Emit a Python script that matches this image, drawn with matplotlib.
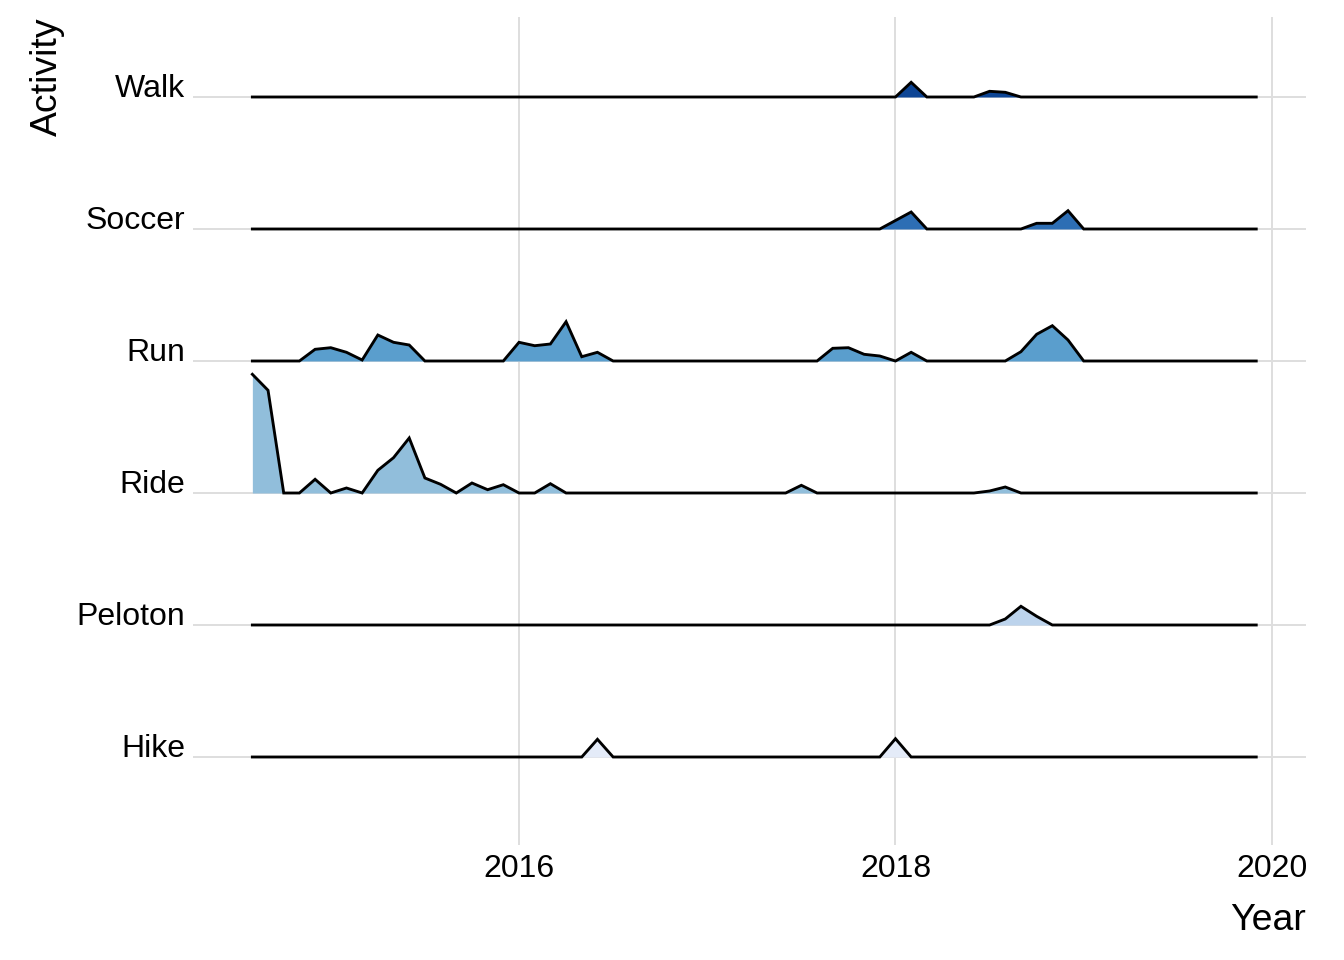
import numpy as np
import pandas as pd
import matplotlib
matplotlib.use("Agg")
import matplotlib.pyplot as plt

plt.rcParams['font.family'] = ['Liberation Sans', 'DejaVu Sans']

# Monthly series, Aug 2014 .. Dec 2019 (65 months)
months = pd.date_range("2014-08-01", "2019-12-01", freq="MS")

activities = ["Hike", "Peloton", "Ride", "Run", "Soccer", "Walk"]
fill_colors = ["#E4EBF8", "#BCD3EC", "#91BEDB", "#5A9ECD", "#2D6EB4", "#0D4595"]

def series(pairs, n=65):
    out = [0.0] * n
    for i, v in pairs:
        out[i] = v
    return out

hike = series([(22, 17.7), (41, 18.3)])
peloton = series([(48, 6.0), (49, 18.7), (50, 8.7)])
ride = series([(0, 118.7), (1, 102.7), (4, 13.7), (6, 5.0), (8, 22.7), (9, 35.3),
               (10, 55.0), (11, 15.0), (12, 8.7), (14, 10.0), (15, 3.3), (16, 8.3),
               (19, 9.3), (35, 7.7), (47, 2.0), (48, 6.0)])
run = series([(4, 11.7), (5, 13.3), (6, 8.7), (7, 1.0), (8, 26.0), (9, 18.7), (10, 16.0),
              (17, 18.7), (18, 15.3), (19, 17.0), (20, 39.3), (21, 4.3), (22, 8.7),
              (37, 12.7), (38, 13.3), (39, 6.7), (40, 5.0), (42, 8.7),
              (49, 9.3), (50, 26.7), (51, 35.3), (52, 21.0)])
soccer = series([(41, 8.5), (42, 17.0), (50, 5.7), (51, 5.7), (52, 18.3)])
walk = series([(42, 14.7), (47, 5.7), (48, 4.7)])

values = [hike, peloton, ride, run, soccer, walk]
height_scale = 132.0  # value units per row spacing

x = months.year + (months.month - 1) / 12.0

fig = plt.figure(figsize=(7, 5), dpi=192)
ax = fig.add_axes([193/1344, 1 - 845/960, (1306-193)/1344, (845-17)/960])

grid_col = "#DEDEDE"
for yy in range(1, len(activities) + 1):
    ax.axhline(yy, color=grid_col, lw=0.75, zorder=0)
for xx in [2016, 2018, 2020]:
    ax.axvline(xx, color=grid_col, lw=0.75, zorder=0)

n = len(activities)
for k in range(n - 1, -1, -1):
    base = k + 1
    v = np.asarray(values[k]) / height_scale
    z = 2 + (n - k) * 2
    ax.fill_between(x, base, base + v, color=fill_colors[k], lw=0, zorder=z)
    ax.plot(x, base + v, color="black", lw=1.07, zorder=z + 1, solid_joinstyle='miter')

ax.set_xlim(2014.268, 2020.181)
ax.set_ylim(1 - 88/132, 6 + 80/132)
ax.set_xticks([2016, 2018, 2020])
ax.set_xticklabels(["2016", "2018", "2020"])
ax.set_yticks(range(1, n + 1))
ax.set_yticklabels(activities)
for lbl in ax.get_yticklabels():
    lbl.set_va("baseline")
ax.tick_params(axis="both", length=0, labelsize=12, colors="black")
ax.tick_params(axis="x", pad=3.4)
ax.tick_params(axis="y", pad=3)
for s in ax.spines.values():
    s.set_visible(False)

ax.set_xlabel("Year", fontsize=14, loc="right", labelpad=7)
ax.set_ylabel("Activity", fontsize=14, loc="top", labelpad=4.4)

fig.savefig("out.png", dpi=192)
